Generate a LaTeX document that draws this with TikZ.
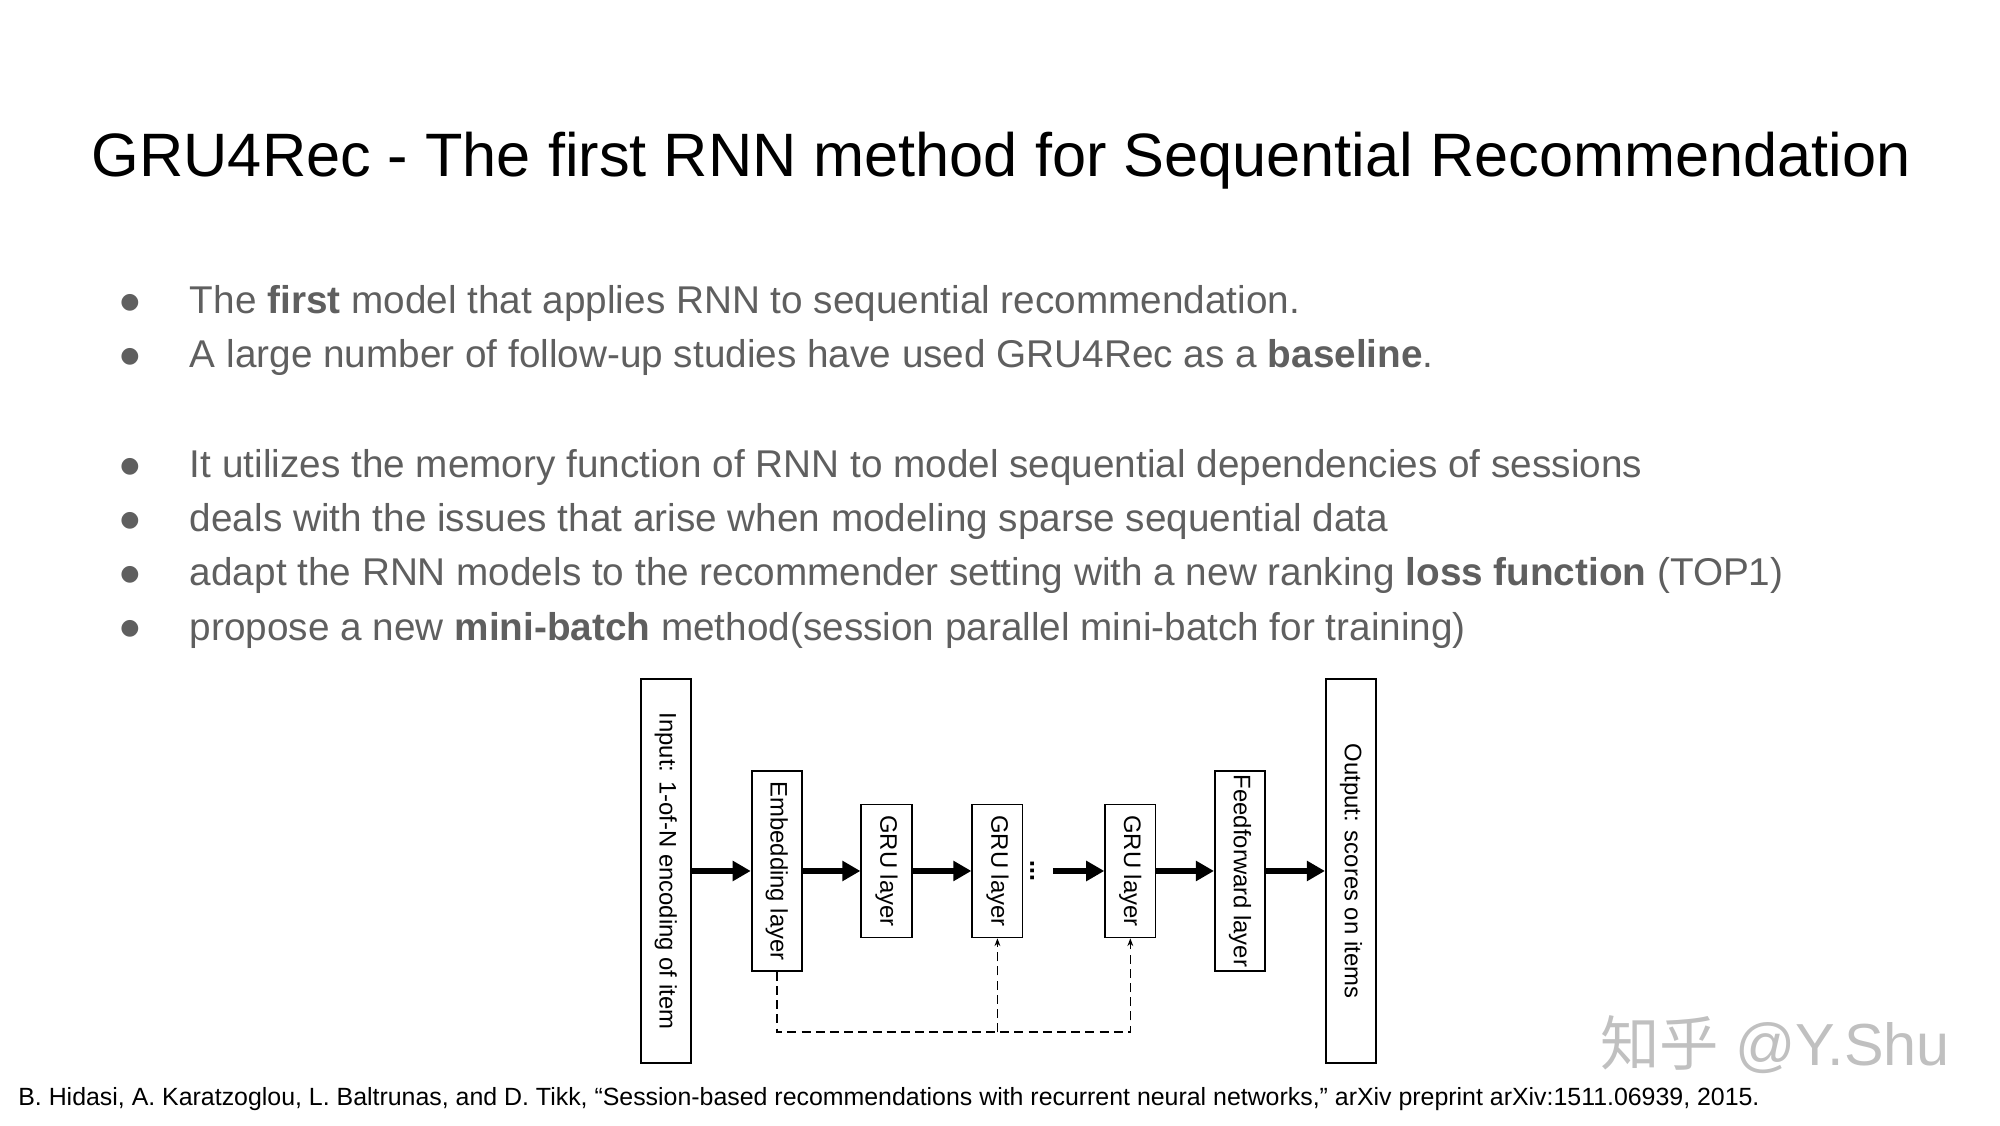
\documentclass[tikz,border=0pt]{standalone}
\usepackage{fontspec}
\setmainfont{Liberation Sans}
\newfontfamily\cjk{Noto Sans CJK SC}
\newfontfamily\dotfont{DejaVu Sans}
\usetikzlibrary{arrows.meta,positioning}
\definecolor{bodygray}{HTML}{5F5F5F}
\definecolor{markgray}{HTML}{B0B0B0}

\begin{document}
\begin{tikzpicture}[
    x=1pt, y=-1pt,
    layer/.style={draw,line width=1.4pt,minimum width=39pt,inner sep=0pt,font=\fontsize{18.5}{18.5}\selectfont},
    feed/.style={line width=4pt,-{Triangle[length=14pt,width=15pt]}},
    skip/.style={line width=1.2pt,dash pattern=on 7pt off 4pt},
    bullet/.style={anchor=base west,inner sep=0pt,font=\fontsize{30}{30}\selectfont,text=bodygray}
]
    \useasboundingbox (0,0) rectangle (1550,872);

    % Title
    \node[anchor=base,font=\fontsize{47.5}{47.5}\selectfont] (title) at (776,137)
        {GRU4Rec - The first RNN method for Sequential Recommendation};

    % Bullets
    \foreach \y/\txt [count=\i] in {
        243/{The \textbf{first} model that applies RNN to sequential recommendation.},
        285/{A large number of follow-up studies have used GRU4Rec as a \textbf{baseline}.},
        370/{It utilizes the memory function of RNN to model sequential dependencies of sessions},
        412/{deals with the issues that arise when modeling sparse sequential data},
        454/{adapt the RNN models to the recommender setting with a new ranking \textbf{loss function} (TOP1)},
        496/{propose a new \textbf{mini-batch} method(session parallel mini-batch for training)}}{
        \node[bullet,font=\dotfont\fontsize{17}{17}\selectfont] (dot\i) at (93,\y-4) {●};
        \node[bullet] (item\i) at (147,\y) {\txt};
    }

    % Network layers
    \node[layer,minimum height=298pt] (input) at (516,675) {\rotatebox{-90}{Input: 1-of-N encoding of item}};
    \node[layer,minimum height=155pt] (embed) at (602,675) {\rotatebox{-90}{Embedding layer}};
    \node[layer,minimum height=103pt] (gruA) at (687,675) {\rotatebox{-90}{GRU layer}};
    \node[layer,minimum height=103pt] (gruB) at (773,675) {\rotatebox{-90}{GRU layer}};
    \node[layer,minimum height=103pt] (gruC) at (876,675) {\rotatebox{-90}{GRU layer}};
    \node[layer,minimum height=155pt] (ffwd) at (961,675) {\rotatebox{-90}{Feedforward layer}};
    \node[layer,minimum height=298pt] (output) at (1047,675) {\rotatebox{-90}{Output: scores on items}};
    \node[font=\bfseries\fontsize{20}{20}\selectfont] (dots) at (800,675) {\rotatebox{90}{...}};
    \coordinate (resume) at (816,675);

    \draw[feed] (input) -- (embed);
    \draw[feed] (embed) -- (gruA);
    \draw[feed] (gruA) -- (gruB);
    \draw[feed] (resume) -- (gruC);
    \draw[feed] (gruC) -- (ffwd);
    \draw[feed] (ffwd) -- (output);

    % Dashed skip connections
    \coordinate (low) at (602,800);
    \draw[skip,-{Stealth[length=6pt]}] (embed.south) |- (low) -| (gruC.south);
    \draw[skip,-{Stealth[length=6pt]}] (gruB.south |- low) -- (gruB.south);

    % Reference and mark
    \node[anchor=base west,inner sep=0pt,font=\fontsize{19.3}{19.3}\selectfont] (cite) at (14,857)
        {B. Hidasi, A. Karatzoglou, L. Baltrunas, and D. Tikk, “Session-based recommendations with recurrent neural networks,” arXiv preprint arXiv:1511.06939, 2015.};
    \node[anchor=base west,inner sep=0pt,font=\fontsize{46}{46}\selectfont,text=markgray!80] (mark) at (1240,826)
        {{\cjk 知乎} @Y.Shu};
\end{tikzpicture}
\end{document}
